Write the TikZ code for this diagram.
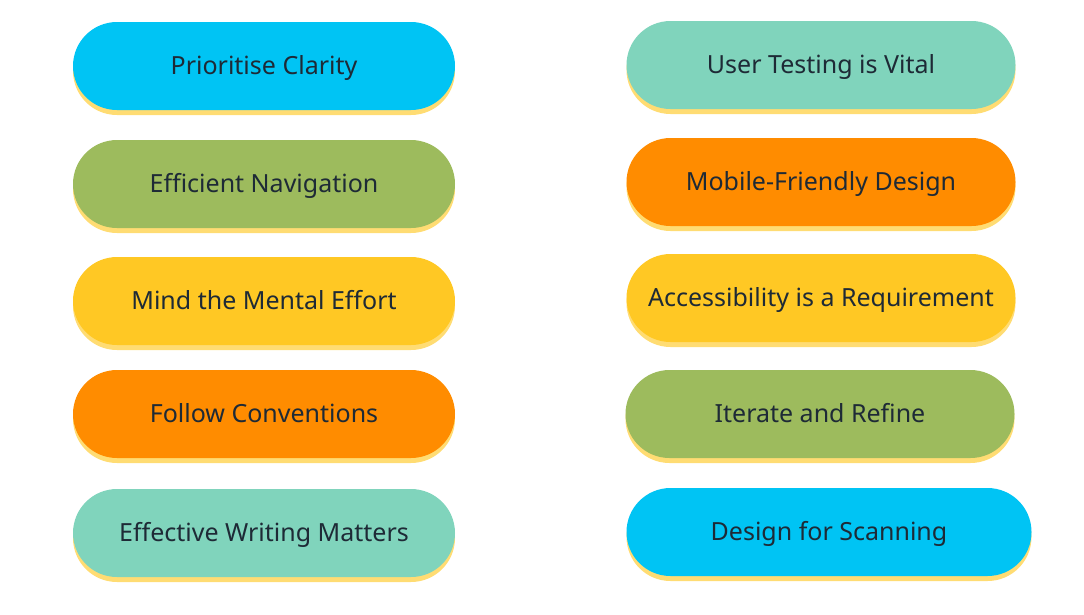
\documentclass[tikz,border=0pt]{standalone}
\usepackage{fontspec}
\setmainfont{Noto Sans}
\usetikzlibrary{shadows}
\definecolor{pillcyan}{HTML}{00C4F4}
\definecolor{pillgreen}{HTML}{9DBB5D}
\definecolor{pillyellow}{HTML}{FFC824}
\definecolor{pillorange}{HTML}{FF8C00}
\definecolor{pillteal}{HTML}{80D4BC}
\definecolor{pilltext}{HTML}{1E2A36}
\tikzset{
  pill/.style={rounded corners=44pt, minimum height=88pt, inner sep=0pt,
    text=pilltext, font=\fontsize{25}{30}\selectfont,
    text height=17pt, text depth=0pt,
    drop shadow={shadow xshift=0pt, shadow yshift=-5pt, fill=pillyellow!80, opacity=0.8}},
  lpill/.style={pill, minimum width=382pt},
  rpill/.style={pill, minimum width=389pt}
}
\begin{document}
\begin{tikzpicture}[x=1pt,y=-1pt]
\useasboundingbox (0,0) rectangle (1084,614);
% left column
\node[lpill, fill=pillcyan] (clarity) at (264,66) {Prioritise Clarity};
\node[lpill, fill=pillgreen] (navigation) at (264,184) {Efficient Navigation};
\node[lpill, fill=pillyellow] (effort) at (264,301) {Mind the Mental Effort};
\node[lpill, fill=pillorange] (conventions) at (264,414) {Follow Conventions};
\node[lpill, fill=pillteal] (writing) at (264,533) {Effective Writing Matters};
% right column
\node[rpill, fill=pillteal] (testing) at (821,65) {User Testing is Vital};
\node[rpill, fill=pillorange] (mobile) at (821,182) {Mobile-Friendly Design};
\node[rpill, fill=pillyellow] (access) at (821,298) {Accessibility is a Requirement};
\node[rpill, fill=pillgreen] (iterate) at (820,414) {Iterate and Refine};
\node[pill, minimum width=405pt, fill=pillcyan] (scanning) at (829,532) {Design for Scanning};
\end{tikzpicture}
\end{document}
